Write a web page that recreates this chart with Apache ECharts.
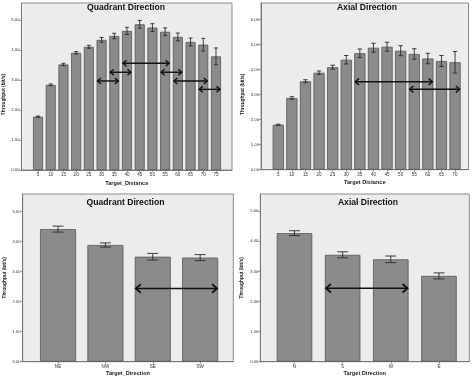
<!DOCTYPE html>
<html>
<head>
<meta charset="utf-8">
<script src="https://cdn.jsdelivr.net/npm/echarts@6/dist/echarts.min.js"></script>
<style>
html,body{margin:0;padding:0;background:#fff;}
#c{width:474px;height:380px;}
</style>
</head>
<body>
<div id="c"></div>
<script>
// ---------- data ----------
const distQuadCats = ['5','10','15','20','25','30','35','40','45','50','55','60','65','70','75'];
const distQuadMean = [1.78, 2.84, 3.52, 3.91, 4.11, 4.34, 4.47, 4.64, 4.86, 4.75, 4.61, 4.44, 4.27, 4.18, 3.79];
const distQuadErr  = [0.02, 0.03, 0.04, 0.04, 0.05, 0.08, 0.09, 0.12, 0.13, 0.13, 0.13, 0.13, 0.13, 0.21, 0.28];
const distQuadArrows = [['30','35',2.97],['35','40',3.26],['40','55',3.56],['55','60',3.26],['60','70',2.97],['70','75',2.69]];

const distAxialCats = ['5','10','15','20','25','30','35','40','45','50','55','60','65','70'];
const distAxialMean = [1.80, 2.87, 3.54, 3.88, 4.10, 4.40, 4.66, 4.88, 4.92, 4.76, 4.63, 4.45, 4.35, 4.30];
const distAxialErr  = [0.02, 0.05, 0.06, 0.07, 0.08, 0.17, 0.17, 0.18, 0.18, 0.20, 0.21, 0.21, 0.22, 0.43];
const distAxialArrows = [['35','60',3.52],['55','70',3.22]];

const dirQuadCats = ['NE','NW','SE','SW'];
const dirQuadMean = [4.42, 3.89, 3.50, 3.47];
const dirQuadErr  = [0.10, 0.07, 0.11, 0.10];
const dirQuadArrows = [['SE','SW',2.44]];

const dirAxialCats = ['N','S','W','E'];
const dirAxialMean = [4.27, 3.55, 3.40, 2.85];
const dirAxialErr  = [0.08, 0.10, 0.11, 0.10];
const dirAxialArrows = [['S','W',2.44]];

const yTicks56 = [0,1,2,3,4,5];
const yTicks66 = [0,1,2,3,4,5,6];

// ---------- layout / style ----------
const FONT = 'Liberation Sans, Arial, sans-serif';
const panels = [
  {cats: distQuadCats, mean: distQuadMean, err: distQuadErr, arrows: distQuadArrows, yTicks: yTicks56,
   title: 'Quadrant Direction', xName: 'Target_Distance',
   grid: {left: 21.5, top: 3, width: 210.5, height: 167}, xMin: -1.3, xMax: 15.26, yMax: 5.57,
   barW: 10, cap: 2, head: 3.5, aw: 1.4, titleX: 126, titleY: 3.5, xGap: 10, yGap: 15.5, yPad: [0, 16, 0, 0]},
  {cats: distAxialCats, mean: distAxialMean, err: distAxialErr, arrows: distAxialArrows, yTicks: yTicks66,
   title: 'Axial Direction', xName: 'Target Distance',
   grid: {left: 261, top: 3, width: 207.5, height: 166.7}, xMin: -1.27, xMax: 13.99, yMax: 6.67,
   barW: 11.2, cap: 2.2, head: 3.8, aw: 1.5, titleX: 367, titleY: 3.5, xGap: 10, yGap: 16, yPad: [0, 16, 0, 0]},
  {cats: dirQuadCats, mean: dirQuadMean, err: dirQuadErr, arrows: dirQuadArrows, yTicks: yTicks56,
   title: 'Quadrant Direction', xName: 'Target_Direction',
   grid: {left: 22.7, top: 194, width: 210.6, height: 167.7}, xMin: -0.746, xMax: 3.70, yMax: 5.59,
   barW: 36, cap: 5.5, head: 5, aw: 1.7, titleX: 125.5, titleY: 198, xGap: 9, yGap: 15.5, yPad: [0, 0, 0, 0]},
  {cats: dirAxialCats, mean: dirAxialMean, err: dirAxialErr, arrows: dirAxialArrows, yTicks: yTicks56,
   title: 'Axial Direction', xName: 'Target Direction',
   grid: {left: 260.3, top: 194, width: 209, height: 167.7}, xMin: -0.71, xMax: 3.63, yMax: 5.57,
   barW: 35.5, cap: 5.5, head: 5, aw: 1.7, titleX: 368, titleY: 198, xGap: 9, yGap: 16, yPad: [0, 0, 0, 0]}
];

function errRender(cap) {
  return function (params, api) {
    const x = api.value(0);
    const top = api.coord([x, api.value(2)]);
    const bot = api.coord([x, api.value(1)]);
    const st = {stroke: '#2a2a2a', lineWidth: 0.9, fill: null};
    return {type: 'group', children: [
      {type: 'line', shape: {x1: top[0], y1: top[1], x2: bot[0], y2: bot[1]}, style: st},
      {type: 'line', shape: {x1: top[0] - cap, y1: top[1], x2: top[0] + cap, y2: top[1]}, style: st},
      {type: 'line', shape: {x1: bot[0] - cap, y1: bot[1], x2: bot[0] + cap, y2: bot[1]}, style: st}
    ]};
  };
}

function arrowRender(ext, head, aw) {
  return function (params, api) {
    const y = api.value(2);
    const a = api.coord([api.value(0), y]);
    const b = api.coord([api.value(1), y]);
    const xa = a[0] - ext, xb = b[0] + ext, yy = a[1];
    const st = {stroke: '#111', lineWidth: aw, fill: null, lineJoin: 'miter'};
    return {type: 'group', children: [
      {type: 'line', shape: {x1: xa, y1: yy, x2: xb, y2: yy}, style: st},
      {type: 'polyline', shape: {points: [[xa + head, yy - head * 0.85], [xa, yy], [xa + head, yy + head * 0.85]]}, style: st},
      {type: 'polyline', shape: {points: [[xb - head, yy - head * 0.85], [xb, yy], [xb - head, yy + head * 0.85]]}, style: st}
    ]};
  };
}

const option = {
  backgroundColor: '#ffffff',
  animation: false,
  textStyle: {fontFamily: FONT},
  title: [], grid: [], xAxis: [], yAxis: [], series: []
};

panels.forEach((p, k) => {
  const idx = p.cats.map((c, i) => i);
  option.title.push({
    text: p.title, left: p.titleX, top: p.titleY, textAlign: 'center', padding: 0,
    textStyle: {fontFamily: FONT, fontSize: 8.6, fontWeight: 'bold', color: '#111'}
  });
  option.grid.push(Object.assign({
    show: true, backgroundColor: '#ececec', borderColor: '#8c8c8c', borderWidth: 1,
    containLabel: false, outerBoundsMode: 'none'
  }, p.grid));
  option.xAxis.push({
    type: 'value', gridIndex: k, min: p.xMin, max: p.xMax,
    name: p.xName, nameLocation: 'middle', nameGap: p.xGap,
    nameTextStyle: {fontFamily: FONT, fontSize: 5.6, fontWeight: 'bold', color: '#222'},
    splitLine: {show: false},
    axisLine: {show: true, onZero: false, lineStyle: {color: '#777', width: 1}},
    axisTick: {show: true, customValues: idx, length: 2, lineStyle: {color: '#666', width: 0.7}},
    axisLabel: {show: true, customValues: idx, margin: 2.5, fontSize: 4.6, color: '#333', fontFamily: FONT,
      formatter: v => p.cats[Math.round(v)] || ''}
  });
  option.yAxis.push({
    type: 'value', gridIndex: k, min: 0, max: p.yMax,
    name: 'Throughput (bit/s)', nameLocation: 'middle', nameGap: p.yGap, nameRotate: 90,
    nameTextStyle: {fontFamily: FONT, fontSize: 4.8, fontWeight: 'bold', color: '#222', padding: p.yPad},
    splitLine: {show: false},
    axisLine: {show: true, onZero: false, lineStyle: {color: '#777', width: 1}},
    axisTick: {show: true, customValues: p.yTicks, length: 2, lineStyle: {color: '#666', width: 0.7}},
    axisLabel: {show: true, customValues: p.yTicks, margin: 2, fontSize: 4.2, color: '#333', fontFamily: FONT,
      formatter: v => v.toFixed(2)}
  });
  option.series.push({
    type: 'bar', xAxisIndex: k, yAxisIndex: k, barWidth: p.barW, silent: true,
    data: p.mean.map((m, i) => [i, m]),
    itemStyle: {color: '#8b8b8b', borderColor: '#555', borderWidth: 0.8}
  });
  option.series.push({
    type: 'custom', xAxisIndex: k, yAxisIndex: k, silent: true, z: 3,
    data: p.mean.map((m, i) => [i, m - p.err[i], m + p.err[i]]),
    encode: {x: 0, y: [1, 2]}, renderItem: errRender(p.cap)
  });
  option.series.push({
    type: 'custom', xAxisIndex: k, yAxisIndex: k, silent: true, z: 4,
    data: p.arrows.map(a => [p.cats.indexOf(a[0]), p.cats.indexOf(a[1]), a[2]]),
    encode: {x: [0, 1], y: 2}, renderItem: arrowRender(p.barW / 2 - 1, p.head, p.aw)
  });
});

const chart = echarts.init(document.getElementById('c'), null, {renderer: 'canvas'});
chart.setOption(option);
</script>
</body>
</html>
